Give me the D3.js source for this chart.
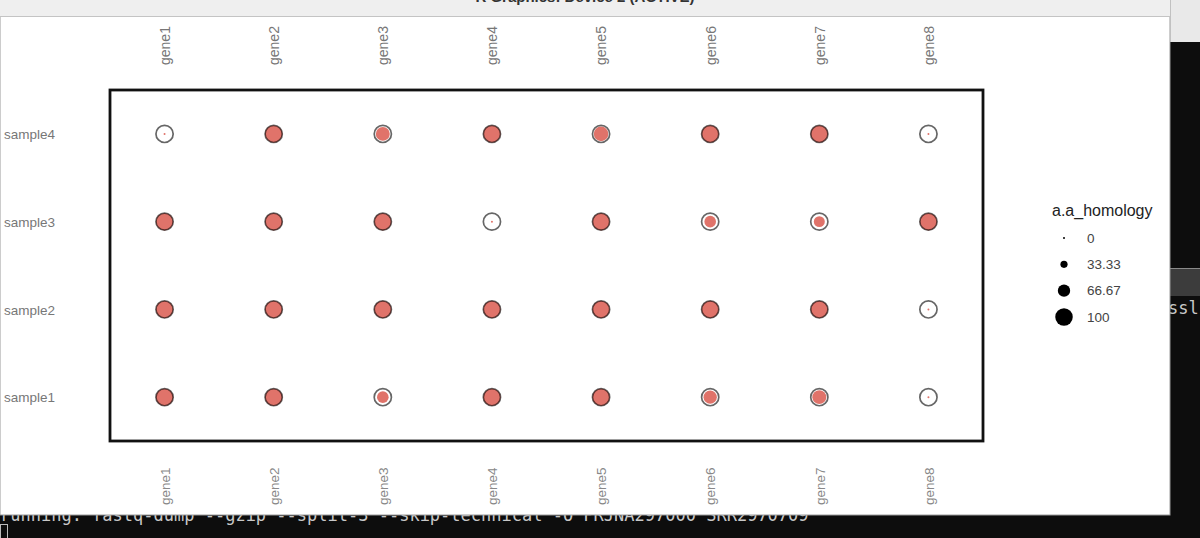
<!DOCTYPE html>
<html>
<head>
<meta charset="utf-8">
<script src="https://cdn.jsdelivr.net/npm/d3@7"></script>
<style>
  html, body { margin: 0; padding: 0; background: #0d0d0d; overflow: hidden; }
  svg { display: block; font-family: "Liberation Sans", Arial, sans-serif; }
</style>
</head>
<body>
<div id="chart-area"></div>
<script>
// data
const genes = ["gene1", "gene2", "gene3", "gene4", "gene5", "gene6", "gene7", "gene8"];
const samples = ["sample1", "sample2", "sample3", "sample4"];
const sample1 = [100, 100, 62, 100, 100, 73, 77, 0];
const sample2 = [100, 100, 100, 100, 100, 100, 100, 0];
const sample3 = [100, 100, 100, 0, 100, 62, 58, 100];
const sample4 = [0, 100, 77, 100, 81, 100, 100, 0];
const legendBreaks = [0, 33.33, 66.67, 100];
const legendLabels = ["0", "33.33", "66.67", "100"];

let w = 1200;
let h = 538;
let panel = {left: 110, right: 983, top: 90, bottom: 441};
let red = "#e0736a";

let rows = [sample1, sample2, sample3, sample4];
let dataset = [];
samples.forEach((s, i) => {
    genes.forEach((g, j) => {
        dataset.push({sample: s, gene: g, value: rows[i][j]});
    });
});

let svg = d3.select("#chart-area")
    .append("svg")
    .attr("width", w)
    .attr("height", h);

// window chrome around the plot
let drawWindow = () => {
    svg.append("text")
    .attr("x", 0)
    .attr("y", 521)
    .attr("fill", "#c8c8c8")
    .style("font-family", "'DejaVu Sans Mono', monospace")
    .style("font-size", "17px")
    .text("running: fastq-dump --gzip --split-3 --skip-technical -O PRJNA297000 SRR2970709");

    svg.append("rect")
    .attr("x", 0.5).attr("y", 524.5)
    .attr("width", 7).attr("height", 16)
    .attr("fill", "none").attr("stroke", "#bbb");

    svg.append("rect")
    .attr("x", 1170).attr("y", 0)
    .attr("width", 30).attr("height", 42)
    .attr("fill", "#e9e9e9");

    svg.append("rect")
    .attr("x", 1170).attr("y", 268)
    .attr("width", 30).attr("height", 28)
    .attr("fill", "#3c3c3c");
    svg.append("line")
    .attr("x1", 1170).attr("x2", 1200)
    .attr("y1", 268.5).attr("y2", 268.5)
    .attr("stroke", "#8a8a8a");

    svg.append("text")
    .attr("x", 1168)
    .attr("y", 314)
    .attr("fill", "#c8c8c8")
    .style("font-family", "'DejaVu Sans Mono', monospace")
    .style("font-size", "17px")
    .text("ssl");

    svg.append("rect")
    .attr("x", 0).attr("y", 0)
    .attr("width", 1170).attr("height", 515)
    .attr("fill", "#ffffff")
    .attr("stroke", "#9a9a9a");

    svg.append("rect")
    .attr("x", 0).attr("y", 0)
    .attr("width", 1170).attr("height", 16)
    .attr("fill", "#efefef");
    svg.append("line")
    .attr("x1", 0).attr("x2", 1170)
    .attr("y1", 16.5).attr("y2", 16.5)
    .attr("stroke", "#c4c4c4");

    svg.append("text")
    .attr("x", 585)
    .attr("y", 2)
    .attr("text-anchor", "middle")
    .attr("fill", "#333")
    .style("font-weight", "bold")
    .style("font-size", "15px")
    .text("R Graphics: Device 2 (ACTIVE)");
}

let xScale = d3.scalePoint()
    .domain(genes)
    .range([panel.left, panel.right])
    .padding(0.5);

let yScale = d3.scalePoint()
    .domain(samples.slice().reverse())
    .range([panel.top, panel.bottom])
    .padding(0.5);

// dot radius grows with a.a_homology
let rScale = d3.scaleLinear()
    .domain([0, 100])
    .range([1, 8.75]);

let drawAxes = () => {
    let top = svg.append("g")
    .attr("transform", "translate(0," + panel.top + ")")
    .call(d3.axisTop(xScale).tickSize(0));
    top.select(".domain").remove();
    top.selectAll("text")
    .attr("transform", "rotate(-90)")
    .attr("x", 25)
    .attr("y", 0)
    .attr("dy", "0.35em")
    .attr("fill", "#777")
    .style("text-anchor", "start")
    .style("font-size", "14px");

    let bottom = svg.append("g")
    .attr("transform", "translate(0," + panel.bottom + ")")
    .call(d3.axisBottom(xScale).tickSize(0));
    bottom.select(".domain").remove();
    bottom.selectAll("text")
    .attr("transform", "rotate(-90)")
    .attr("x", -64)
    .attr("y", 0)
    .attr("dy", "0.35em")
    .attr("fill", "#888")
    .style("text-anchor", "start")
    .style("font-size", "13.5px");

    let left = svg.append("g")
    .attr("transform", "translate(" + panel.left + ",0)")
    .call(d3.axisLeft(yScale).tickSize(0));
    left.select(".domain").remove();
    left.selectAll("text")
    .attr("x", 4 - panel.left)
    .attr("dy", "0.35em")
    .attr("fill", "#777")
    .style("text-anchor", "start")
    .style("font-size", "13.5px");
}

let drawPanel = () => {
    svg.append("rect")
    .attr("x", panel.left)
    .attr("y", panel.top)
    .attr("width", panel.right - panel.left)
    .attr("height", panel.bottom - panel.top)
    .attr("fill", "none")
    .attr("stroke", "#111")
    .attr("stroke-width", 2.8);
}

let drawPoints = () => {
    svg.selectAll("circle.inner")
    .data(dataset)
    .enter()
    .append("circle")
    .attr("class", "inner")
    .attr("cx", (d) => xScale(d.gene))
    .attr("cy", (d) => yScale(d.sample))
    .attr("r", (d) => rScale(d.value))
    .attr("fill", red);

    // fixed outline ring drawn on top
    svg.selectAll("circle.ring")
    .data(dataset)
    .enter()
    .append("circle")
    .attr("class", "ring")
    .attr("cx", (d) => xScale(d.gene))
    .attr("cy", (d) => yScale(d.sample))
    .attr("r", 8.6)
    .attr("fill", "none")
    .attr("stroke", "#000")
    .attr("stroke-opacity", 0.6)
    .attr("stroke-width", 1.7);
}

let drawLegend = () => {
    let legend = svg.append("g")
    .attr("transform", "translate(1052,0)");

    legend.append("text")
    .attr("x", 0)
    .attr("y", 216)
    .attr("fill", "#222")
    .style("font-size", "16px")
    .text("a.a_homology");

    let ly = d3.scalePoint()
    .domain(legendLabels)
    .range([238, 317]);

    legend.selectAll("circle")
    .data(legendBreaks)
    .enter()
    .append("circle")
    .attr("cx", 12)
    .attr("cy", (d, i) => ly(legendLabels[i]))
    .attr("r", (d) => rScale(d))
    .attr("fill", "#000");

    legend.selectAll("text.lab")
    .data(legendLabels)
    .enter()
    .append("text")
    .attr("class", "lab")
    .attr("x", 35)
    .attr("y", (d) => ly(d))
    .attr("dy", "0.35em")
    .attr("fill", "#444")
    .style("font-size", "13.5px")
    .text((d) => d);
}

drawWindow();
drawPanel();
drawAxes();
drawPoints();
drawLegend();
</script>
</body>
</html>
